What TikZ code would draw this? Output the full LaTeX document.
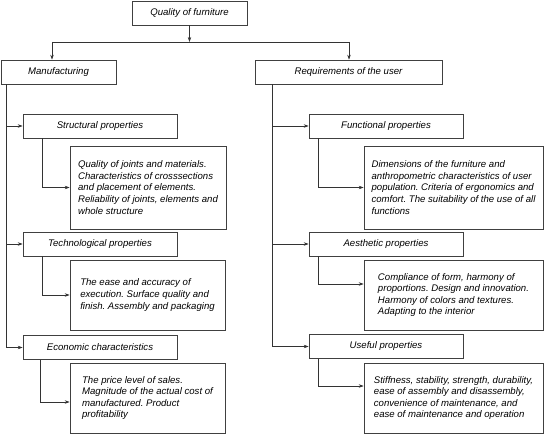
\documentclass[tikz,border=0pt]{standalone}
\usepackage{fontspec}
\setmainfont{Liberation Sans}
\usetikzlibrary{arrows.meta,positioning,calc}
\frenchspacing

\begin{document}
\begin{tikzpicture}[x=1pt,y=-1pt,
    every node/.style={font=\fontsize{9.6}{11.6}\selectfont\itshape},
    box/.style={draw=black!75, line width=0.6pt, minimum height=24pt, inner sep=0pt},
    txtbox/.style={draw=black!75, line width=0.6pt, align=left, inner sep=0pt},
    link/.style={draw=black!80, line width=0.6pt},
    arr/.style={link, -{Stealth[length=5pt,width=3.4pt]}}]
    \useasboundingbox (0,0) rectangle (545,435);

    % Top levels
    \node[box, minimum width=115pt] (quality) at (189.5,13) {Quality of furniture};
    \node[box, minimum width=115pt] (manuf) at (58.5,72) {Manufacturing};
    \node[box, minimum width=187pt] (user) at (348.5,72) {Requirements of the user};

    \coordinate (lsplit) at (52,42);
    \coordinate (rsplit) at (349,42);
    \draw[link] (lsplit) -- (rsplit);
    \draw[arr] (quality) -- (quality |- lsplit);
    \draw[arr] (lsplit) -- (lsplit |- manuf.north);
    \draw[arr] (rsplit) -- (rsplit |- user.north);

    % Manufacturing branch
    \node[box, minimum width=154pt] (struct) at (100,126) {Structural properties};
    \node[box, minimum width=154pt] (techn) at (100,244) {Technological properties};
    \node[box, minimum width=154pt] (econ) at (100,347.5) {Economic characteristics};

    \node[txtbox, minimum width=156pt, minimum height=83pt] (structtxt) at (148,187.5)
        {Quality of joints and materials.\\ Characteristics of crosssections\\ and placement of elements.\\ Reliability of joints, elements and\\ whole structure};
    \node[txtbox, minimum width=155pt, minimum height=70pt] (techntxt) at (147.5,295)
        {The ease and accuracy of\\ execution. Surface quality and\\ finish. Assembly and packaging};
    \node[txtbox, minimum width=155pt, minimum height=70pt] (econtxt) at (147.5,398)
        {The price level of sales.\\ Magnitude of the actual cost of\\ manufactured. Product\\ profitability};

    \draw[arr] ([xshift=6pt]manuf.south west) |- (struct.west);
    \draw[arr] ([xshift=6pt]manuf.south west) |- (techn.west);
    \draw[arr] ([xshift=6pt]manuf.south west) |- (econ.west);
    \draw[arr] ([xshift=20pt]struct.south west) |- (structtxt.west);
    \draw[arr] ([xshift=20pt]techn.south west) |- (techntxt.west);
    \draw[arr] ([xshift=18pt]econ.south west) |- ([yshift=-4pt]econtxt.west);

    % User branch
    \node[box, minimum width=154pt] (func) at (386,126) {Functional properties};
    \node[box, minimum width=154pt] (aesth) at (386,244) {Aesthetic properties};
    \node[box, minimum width=154pt] (useful) at (386,346.5) {Useful properties};

    \node[txtbox, minimum width=179pt, minimum height=83pt] (functxt) at (453.5,187.5)
        {Dimensions of the furniture and\\ anthropometric characteristics of user\\ population. Criteria of ergonomics and\\ comfort. The suitability of the use of all\\ functions};
    \node[txtbox, minimum width=179pt, minimum height=70pt] (aesthtxt) at (453.5,295)
        {Compliance of form, harmony of\\ proportions. Design and innovation.\\ Harmony of colors and textures.\\ Adapting to the interior};
    \node[txtbox, minimum width=179pt, minimum height=70pt] (usefultxt) at (453.5,398)
        {Stiffness, stability, strength, durability,\\ ease of assembly and disassembly,\\ convenience of maintenance, and\\ ease of maintenance and operation};

    \draw[arr] ([xshift=18pt]user.south west) |- (func.west);
    \draw[arr] ([xshift=18pt]user.south west) |- (aesth.west);
    \draw[arr] ([xshift=18pt]user.south west) |- (useful.west);
    \draw[arr] ([xshift=10pt]func.south west) |- (functxt.west);
    \draw[arr] ([xshift=10pt]aesth.south west) |- ([yshift=11pt]aesthtxt.west);
    \draw[arr] ([xshift=10pt]useful.south west) |- ([yshift=12pt]usefultxt.west);
\end{tikzpicture}
\end{document}
